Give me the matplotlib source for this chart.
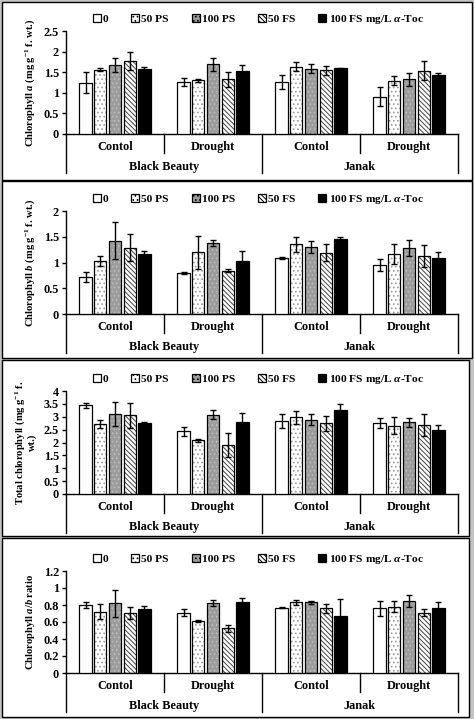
import numpy as np
import matplotlib.pyplot as plt
from matplotlib.patches import Rectangle, Patch

plt.rcParams['font.family'] = ['Liberation Serif', 'DejaVu Serif']
plt.rcParams['font.weight'] = 'bold'
plt.rcParams['mathtext.fontset'] = 'custom'
plt.rcParams['mathtext.rm'] = 'Liberation Serif:bold'
plt.rcParams['mathtext.it'] = 'Liberation Serif:italic:bold'
plt.rcParams['mathtext.bf'] = 'Liberation Serif:bold'
plt.rcParams['hatch.linewidth'] = 0.7

# groups along the x axis
groups = ["Contol", "Drought", "Contol", "Drought"]
cultivars = ["Black Beauty", "Janak"]
treatments = ["0", "50 PS", "100 PS", "50 FS", "100 FS mg/L $\\alpha$-Toc"]

# rows = treatments, columns = groups (BB-Contol, BB-Drought, Janak-Contol, Janak-Drought)
chl_a_mean = [[1.25, 1.26, 1.27, 0.91],
              [1.56, 1.30, 1.63, 1.29],
              [1.67, 1.69, 1.58, 1.33],
              [1.77, 1.33, 1.55, 1.54],
              [1.58, 1.53, 1.59, 1.42]]
chl_a_err = [[0.25, 0.10, 0.17, 0.24],
             [0.03, 0.03, 0.11, 0.11],
             [0.17, 0.15, 0.11, 0.16],
             [0.22, 0.18, 0.11, 0.23],
             [0.04, 0.14, 0.01, 0.05]]

chl_b_mean = [[0.72, 0.79, 1.09, 0.95],
              [1.03, 1.20, 1.35, 1.17],
              [1.42, 1.38, 1.30, 1.28],
              [1.29, 0.84, 1.19, 1.13],
              [1.16, 1.02, 1.45, 1.08]]
chl_b_err = [[0.09, 0.02, 0.02, 0.11],
             [0.09, 0.32, 0.14, 0.19],
             [0.36, 0.05, 0.11, 0.15],
             [0.27, 0.03, 0.16, 0.21],
             [0.07, 0.21, 0.05, 0.12]]

total_mean = [[3.45, 2.43, 2.84, 2.75],
              [2.71, 2.09, 2.98, 2.65],
              [3.11, 3.08, 2.89, 2.79],
              [3.06, 1.90, 2.74, 2.68],
              [2.75, 2.80, 3.26, 2.49]]
total_err = [[0.10, 0.18, 0.27, 0.20],
             [0.15, 0.06, 0.25, 0.33],
             [0.48, 0.18, 0.21, 0.18],
             [0.48, 0.45, 0.29, 0.43],
             [0.03, 0.34, 0.25, 0.18]]

ratio_mean = [[0.80, 0.71, 0.77, 0.76],
              [0.72, 0.61, 0.83, 0.78],
              [0.82, 0.82, 0.83, 0.85],
              [0.71, 0.525, 0.76, 0.71],
              [0.75, 0.83, 0.67, 0.76]]
ratio_err = [[0.03, 0.045, 0.005, 0.085],
             [0.09, 0.01, 0.03, 0.065],
             [0.16, 0.035, 0.02, 0.07],
             [0.07, 0.04, 0.055, 0.045],
             [0.04, 0.055, 0.20, 0.07]]

# fill colour, hatch, hatch colour per treatment
styles = [("white", None, None),
          ("white", "....", "#9a9a9a"),
          ("#9c9c9c", "....", "#bdbdbd"),
          ("white", "\\\\\\\\\\\\\\", "#444444"),
          ("black", None, None)]

W, H = 474, 719
fig = plt.figure(figsize=(W / 100, H / 100), dpi=100, facecolor="#c4c4c4")

# panel boxes (pixels: x0, x1, y_top, y_bottom)
boxes = [(2, 472, 2, 180), (2, 472, 181, 358), (2, 469, 360, 536), (2, 469, 538, 717)]
for x0, x1, yt, yb in boxes:
    fig.patches.append(Rectangle((x0 / W, 1 - yb / H), (x1 - x0) / W, (yb - yt) / H,
                                 transform=fig.transFigure, facecolor="white",
                                 edgecolor="black", linewidth=1.0, zorder=-5))

panels = [
    (chl_a_mean, chl_a_err, 2.5, 0.5, "Chlorophyll $a$ (mg g$^{-1}$ f. wt.)", 31, 134),
    (chl_b_mean, chl_b_err, 2.0, 0.5, "Chlorophyll $b$ (mg g$^{-1}$ f. wt.)", 211, 314),
    (total_mean, total_err, 4.0, 0.5, "Total chlorophyll (mg g$^{-1}$ f.\nwt.)", 391, 494),
    (ratio_mean, ratio_err, 1.2, 0.2, "Chlorophyll $a/b$ ratio", 571, 673),
]

offsets = [-0.3, -0.15, 0.0, 0.15, 0.3]
bw = 0.125
x = np.arange(len(groups))
ax_left, ax_right = 66, 458

for mean, err, ymax, ystep, ylabel, top, zero in panels:
    ax = fig.add_axes([ax_left / W, 1 - zero / H, (ax_right - ax_left) / W, (zero - top) / H])
    ax.set_facecolor("none")
    ax.set_zorder(1)
    handles = []
    for i, (fc, hatch, hc) in enumerate(styles):
        xs = x + offsets[i]
        if hatch:
            ax.bar(xs, mean[i], bw, color=fc, hatch=hatch, edgecolor=hc, linewidth=0, zorder=2)
            ax.bar(xs, mean[i], bw, fill=False, edgecolor="black", linewidth=0.9, zorder=3)
        else:
            ax.bar(xs, mean[i], bw, color=fc, edgecolor="black", linewidth=0.9, zorder=3)
        ax.errorbar(xs, mean[i], yerr=err[i], fmt="none", ecolor="black",
                    elinewidth=1.0, capsize=2.3, capthick=1.0, zorder=4)
        handles.append(Patch(facecolor=fc, edgecolor="black", hatch=hatch, linewidth=0.9,
                             label=treatments[i]))

    ax.set_xlim(-0.5, 3.5)
    ax.set_ylim(0, ymax)
    ax.set_yticks(np.arange(0, ymax + ystep / 2, ystep))
    ax.yaxis.set_major_formatter(plt.FormatStrFormatter("%g"))
    ax.tick_params(axis="y", direction="out", length=3, width=1, labelsize=8.8, pad=2)
    ax.set_xticks([])
    for s in ["top", "right"]:
        ax.spines[s].set_visible(False)
    for s in ["left", "bottom"]:
        ax.spines[s].set_linewidth(1.0)
    ax.set_ylabel(ylabel, fontsize=7.6, fontweight="bold", labelpad=5, linespacing=1.0)

    # two-level category axis
    trans = ax.get_xaxis_transform()
    for j in range(len(groups) + 1):
        xb = j - 0.5
        depth = -0.38 if j % 2 == 0 else -0.185
        ax.plot([xb, xb], [0, depth], color="black", lw=1.0, transform=trans, clip_on=False)
    for j, g in enumerate(groups):
        ax.text(j, -0.125, g, transform=trans, ha="center", va="center", fontsize=8.8)
    for k, c in enumerate(cultivars):
        ax.text(2 * k + 0.5, -0.32, c, transform=trans, ha="center", va="center", fontsize=8.8)

    leg = ax.legend(handles=handles, ncol=5, loc="center", bbox_to_anchor=(0.49, 1 + 12 / 103),
                    frameon=False, fontsize=8.2, handlelength=0.7, handleheight=0.7,
                    handletextpad=0.2, columnspacing=2.0, borderaxespad=0)

fig.savefig("out.png", dpi=100, facecolor=fig.get_facecolor())
